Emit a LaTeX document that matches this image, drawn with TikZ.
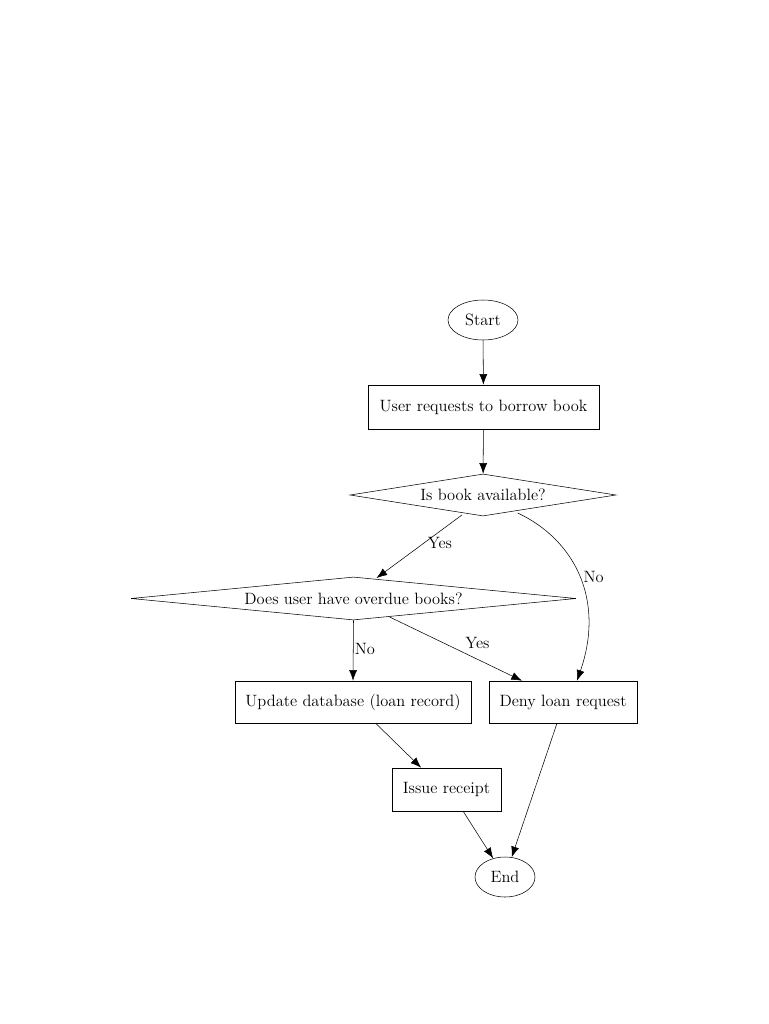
\documentclass[tikz,border=0pt]{standalone}
\usetikzlibrary{shapes.geometric,arrows.meta}
\begin{document}
\begin{tikzpicture}[x=0.75pt,y=-0.75pt,
  every node/.style={font=\fontsize{12.3}{14}\selectfont, draw, inner sep=0pt},
  box/.style={rectangle},
  dia/.style={diamond},
  ell/.style={ellipse},
  arr/.style={-{Latex[length=8pt,width=6pt]}, thin},
  lab/.style={draw=none, fill=none}]
\useasboundingbox (0,0) rectangle (768,1024);
\node[ell, minimum width=52.5pt, minimum height=30pt] (start) at (483,320) {Start};
\node[box, minimum width=173pt, minimum height=33pt] (req) at (483.5,407) {User requests to borrow book};
\node[dia, shape aspect=6.33, inner sep=0pt, minimum width=199.5pt, minimum height=31.5pt] (avail) at (483,495) {Is book available?};
\node[dia, shape aspect=10.3, inner sep=0pt, minimum width=333.75pt, minimum height=32.25pt] (over) at (353.5,598.5) {Does user have overdue books?};
\node[box, minimum width=177pt, minimum height=31.5pt] (upd) at (353,702) {Update database (loan record)};
\node[box, minimum width=111pt, minimum height=31.5pt] (deny) at (563,702) {Deny loan request};
\node[box, minimum width=81.75pt, minimum height=32.25pt] (rec) at (446.5,789.5) {Issue receipt};
\node[ell, minimum width=45pt, minimum height=30pt] (end) at (505,877) {End};

\draw[arr] (start) -- (req);
\draw[arr] (req) -- (avail);
\draw[arr] ([xshift=-15.75pt,yshift=1pt]avail.south) -- ([xshift=17.25pt,yshift=-1pt]over.north) node[lab, pos=0.45, right=3pt] {Yes};
\draw[arr] ([xshift=26pt,yshift=2.5pt]avail.south) .. controls (575,540) and (605,600) .. ([xshift=10.5pt]deny.north) node[lab, pos=0.5, right=3pt] {No};
\draw[arr] (over.south) -- (upd.north) node[lab, pos=0.48, right=1pt] {No};
\draw[arr] ([xshift=27pt,yshift=2.5pt]over.south) -- ([xshift=-30.75pt]deny.north) node[lab, pos=0.55, above right=2pt] {Yes};
\draw[arr] ([xshift=17pt]upd.south) -- ([xshift=-19pt]rec.north);
\draw[arr] ([xshift=12.5pt]rec.south) -- (end);
\draw[arr] ([xshift=-4.5pt]deny.south) -- (end);
\end{tikzpicture}
\end{document}
